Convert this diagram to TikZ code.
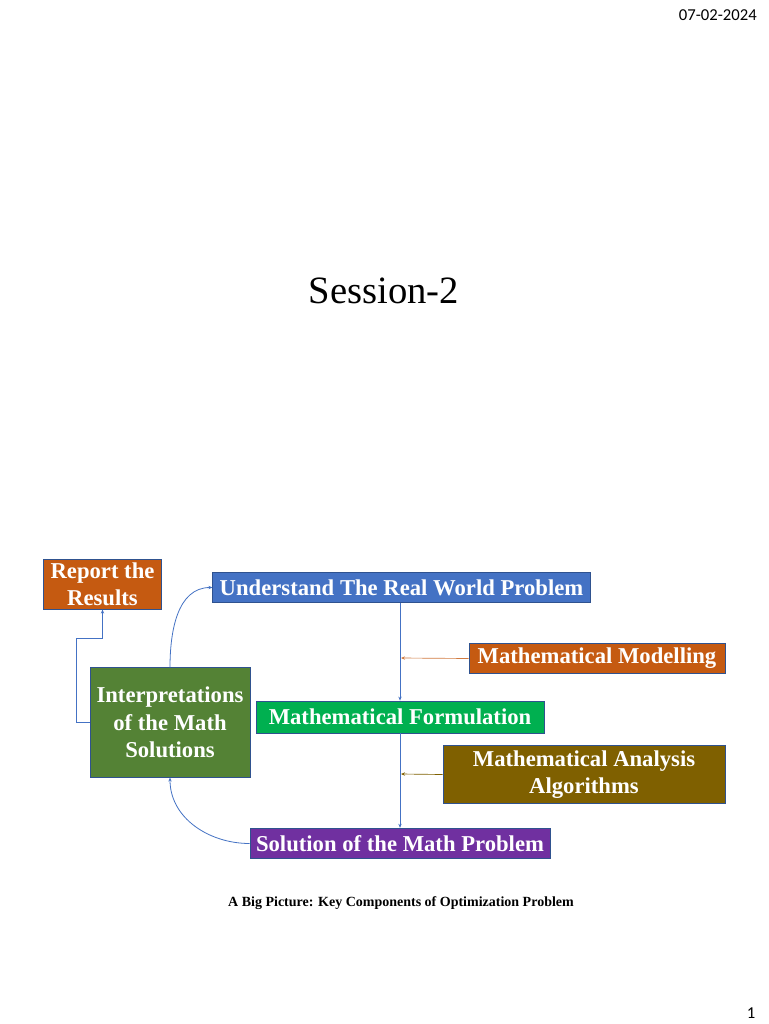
\documentclass[tikz,border=0pt]{standalone}
\usepackage{fontspec}
\setmainfont{Liberation Serif}
\newfontfamily\calibri{Carlito}
\usepackage{xcolor}
\usetikzlibrary{arrows.meta}
\definecolor{boxline}{HTML}{2F528F}
\definecolor{blueb}{HTML}{4472C4}
\definecolor{orangeb}{HTML}{C55A11}
\definecolor{greenb}{HTML}{548235}
\definecolor{brightg}{HTML}{00B050}
\definecolor{brownb}{HTML}{7F6000}
\definecolor{purpleb}{HTML}{7030A0}
\tikzset{
  box/.style={draw=boxline, line width=0.6pt, inner sep=0pt, align=center,
    text=white, font=\fontsize{17}{20.5}\selectfont\bfseries},
  flow/.style={draw=blueb, line width=0.6pt, -{Stealth[length=3pt,width=2.5pt]}},
  feed/.style={line width=0.5pt, -{Stealth[length=3pt,width=2.5pt]}},
}

\begin{document}
\begin{tikzpicture}[x=0.75pt, y=-0.75pt]
  \useasboundingbox[fill=white] (0,0) rectangle (768,1024);
  % page texts
  \node[font=\calibri\fontsize{12.5}{14}\selectfont, anchor=east, inner sep=0pt] (date) at (757,15) {07-02-2024};
  \node[font=\fontsize{29}{34}\selectfont] (title) at (384,291) {Session-2};
  \node[font=\fontsize{10.5}{12}\selectfont\bfseries] (caption) at (401,903) {A Big Picture: Key Components of Optimization Problem};
  \node[font=\calibri\fontsize{12.5}{14}\selectfont, inner sep=0pt] (pageno) at (751,1013) {1};
  % boxes
  \node[box, fill=orangeb, minimum width=89pt, minimum height=37pt] (report) at (102.5,584.5) {Report the\\Results};
  \node[box, fill=blueb, minimum width=283pt, minimum height=23pt] (understand) at (401.5,587.5) {Understand The Real World Problem};
  \node[box, fill=orangeb, minimum width=192pt, minimum height=23pt] (modelling) at (597,658.5) {Mathematical Modelling};
  \node[box, fill=greenb, minimum width=120pt, minimum height=82pt] (interp) at (170,722.5) {Interpretations\\of the Math\\Solutions};
  \node[box, fill=brightg, minimum width=216pt, minimum height=24pt] (formul) at (400,717) {Mathematical Formulation};
  \node[box, fill=brownb, minimum width=211.5pt, minimum height=44pt] (analysis) at (584,774.5) {Mathematical Analysis\\Algorithms};
  \node[box, fill=purpleb, minimum width=225pt, minimum height=23pt] (solution) at (400,843.5) {Solution of the Math Problem};
  % connectors
  \coordinate (m1) at (401,658);
  \coordinate (m2) at (401,774);
  \coordinate (bend) at (76,638);
  \draw[flow] (understand.south -| formul.north) -- (formul.north);
  \draw[flow] (formul.south) -- (formul.south |- solution.north);
  \draw[feed, draw=orangeb!80] (modelling.west) -- (m1);
  \draw[feed, draw=brownb] (analysis.west) -- (m2);
  \draw[flow] (solution.west) to[out=180, in=-90] (interp.south);
  \draw[flow] (interp.north) to[out=90, in=180] (understand.west);
  \draw[flow] (interp.west) -| (bend) -| (report.south);
\end{tikzpicture}
\end{document}
